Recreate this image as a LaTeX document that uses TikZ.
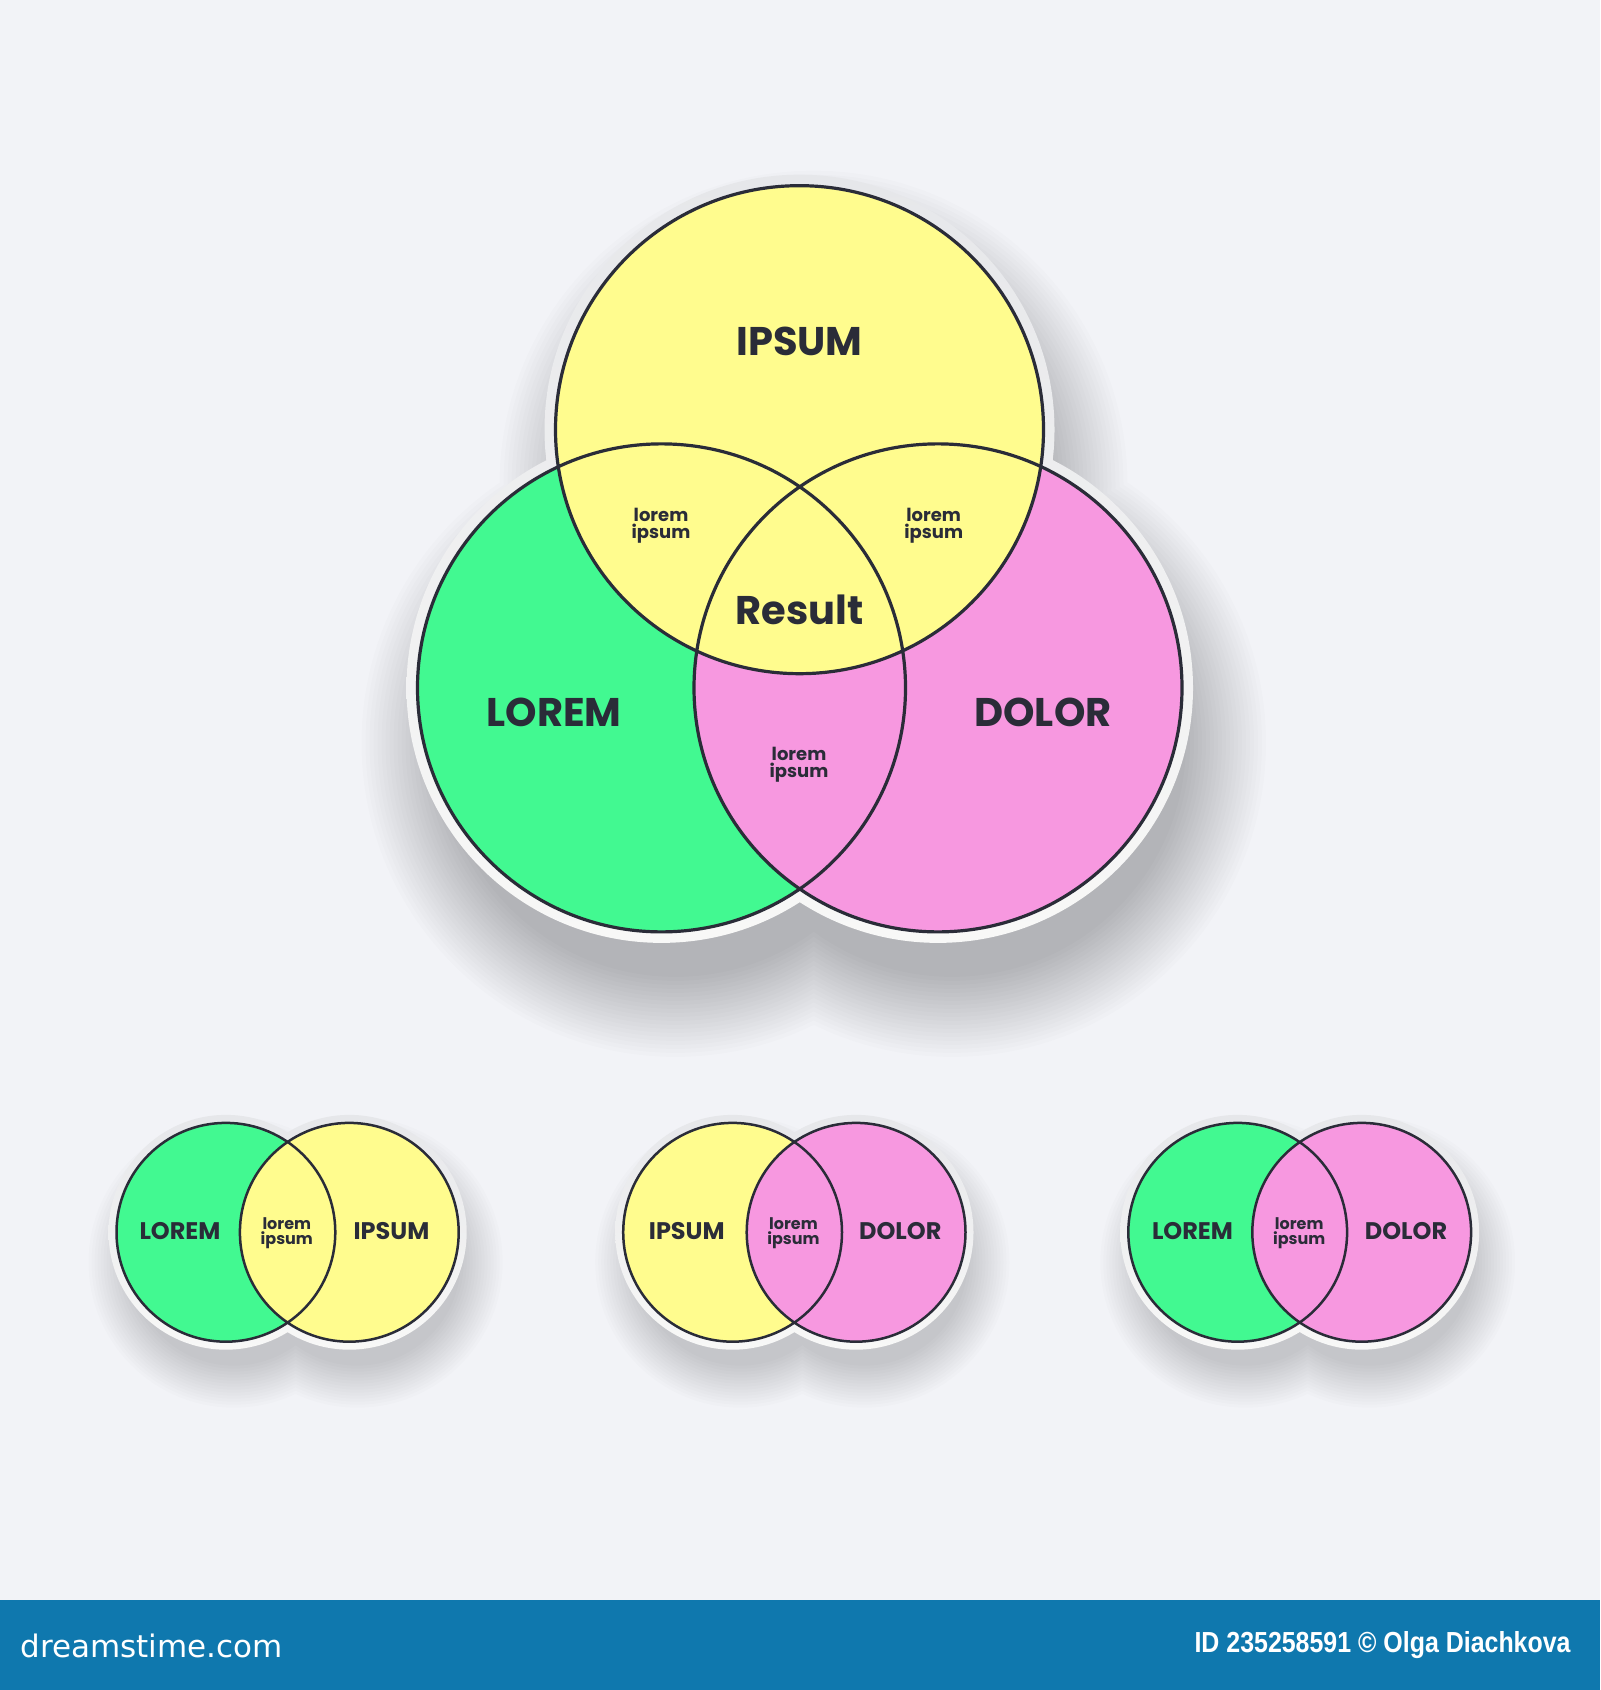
\documentclass[tikz,border=0pt]{standalone}
\usepackage{fontspec}
\setmainfont{Poppins}
\newfontfamily\barfont{Liberation Sans}
\newfontfamily\logofont{DejaVu Sans}
\setlength\lineskiplimit{-20pt}
\setlength\lineskip{0pt}
\definecolor{bg}{HTML}{F2F3F7}
\definecolor{vyel}{HTML}{FFFC8E}
\definecolor{vgrn}{HTML}{42F991}
\definecolor{vpnk}{HTML}{F798E0}
\definecolor{ink}{HTML}{2A2C38}
\definecolor{rimtop}{HTML}{E6E7EA}
\definecolor{rimbot}{HTML}{F8F8F7}
\definecolor{barblue}{HTML}{0F78AE}
\tikzset{
  vline/.style={draw=ink, line width=1.6pt},
  sline/.style={draw=ink, line width=1.25pt},
  bigl/.style={font=\bfseries\fontsize{20}{24}\selectfont, text=ink},
  smalll/.style={font=\bfseries\fontsize{12}{14}\selectfont, text=ink},
  lil/.style={font=\bfseries\fontsize{9}{8.5}\selectfont, text=ink, align=center, inner sep=0pt},
  lis/.style={font=\bfseries\fontsize{8}{7.5}\selectfont, text=ink, align=center, inner sep=0pt},
}
\begin{document}
\begin{tikzpicture}[x=0.5pt,y=0.5pt]
\useasboundingbox (0,0) rectangle (1600,1690);
\fill[bg] (0,0) rectangle (1600,1690);
% ---------- main Venn ----------
\def\R{244}
\coordinate (ct) at (799.5,1260.3);
\coordinate (cl) at (661.5,1002.1);
\coordinate (cr) at (938,1002.1);
% soft shadow (offset copies of the three circles)
\foreach \k in {0,...,20}{
  \fill[black, opacity=0.0105]
    (813.5,1205.3) circle (\R-10+\k*4)
    (675.5,947.1) circle (\R-10+\k*4)
    (952,947.1) circle (\R-10+\k*4);
}
% rim
\shade[top color=rimtop, bottom color=rimbot]
  (ct) circle (\R+11) (cl) circle (\R+11) (cr) circle (\R+11);
% fills
\fill[vgrn] (cl) circle (\R);
\fill[vpnk] (cr) circle (\R);
\fill[vyel] (ct) circle (\R);
\draw[vline] (cl) circle (\R) (cr) circle (\R) (ct) circle (\R);
\node[bigl] (tIpsum) at (799.5,1349) {IPSUM};
\node[bigl] (tResult) at (799.5,1080) {Result};
\node[bigl] (tLorem) at (554,978) {LOREM};
\node[bigl] (tDolor) at (1043,978) {DOLOR};
\node[lil] (liTL) at (661,1164) {lorem\\ipsum};
\node[lil] (liTR) at (933.7,1164) {lorem\\ipsum};
\node[lil] (liB) at (799,925) {lorem\\ipsum};
% ---------- small Venns ----------
\def\r{109.4}
\def\sy{457.7}
\foreach \a/\b in {225.9/349.3, 732.6/856.1, 1237.7/1361.7}{
  \foreach \k in {0,...,14}{
    \fill[black, opacity=0.011]
      (\a+8,\sy-30) circle (\r-6+\k*3) (\b+8,\sy-30) circle (\r-6+\k*3);
  }
  \shade[top color=rimtop, bottom color=rimbot]
    (\a,\sy) circle (\r+8) (\b,\sy) circle (\r+8);
}
% venn 1
\coordinate (aL) at (225.9,\sy); \coordinate (aR) at (349.3,\sy);
\fill[vgrn] (aL) circle (\r); \fill[vyel] (aR) circle (\r);
\draw[sline] (aL) circle (\r) (aR) circle (\r);
\node[smalll] (s1a) at (180,458.5) {LOREM};
\node[lis] (s1b) at (286.8,457) {lorem\\ipsum};
\node[smalll] (s1c) at (391.4,458.5) {IPSUM};
% venn 2
\coordinate (bL) at (732.6,\sy); \coordinate (bR) at (856.1,\sy);
\fill[vyel] (bL) circle (\r); \fill[vpnk] (bR) circle (\r);
\draw[sline] (bL) circle (\r) (bR) circle (\r);
\node[smalll] (s2a) at (686.8,458.5) {IPSUM};
\node[lis] (s2b) at (793.5,457) {lorem\\ipsum};
\node[smalll] (s2c) at (900.3,458.5) {DOLOR};
% venn 3
\coordinate (cL) at (1237.7,\sy); \coordinate (cR) at (1361.7,\sy);
\fill[vgrn] (cL) circle (\r); \fill[vpnk] (cR) circle (\r);
\draw[sline] (cL) circle (\r) (cR) circle (\r);
\node[smalll] (s3a) at (1192.5,458.5) {LOREM};
\node[lis] (s3b) at (1299.2,457) {lorem\\ipsum};
\node[smalll] (s3c) at (1406,458.5) {DOLOR};
% ---------- bottom bar ----------
\fill[barblue] (0,0) rectangle (1600,90);
\node[anchor=west, text=white, font=\logofont\fontsize{15.5}{18}\selectfont, inner sep=0pt] (logo) at (20,44) {dreamstime.com};
\node[anchor=east, text=white, font=\barfont\bfseries\fontsize{14.5}{16}\selectfont, inner sep=0pt] (credit) at (1571,45) {\scalebox{0.86}[1]{ID 235258591 © Olga Diachkova}};
\end{tikzpicture}
\end{document}
